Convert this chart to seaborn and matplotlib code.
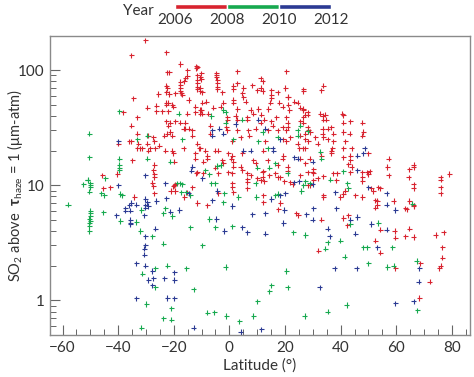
import matplotlib
matplotlib.use('Agg')
import matplotlib.pyplot as plt
import matplotlib.ticker as mticker
import seaborn as sns
import pandas as pd

sns.set_style('ticks')
plt.rcParams['font.family'] = ['Lato', 'DejaVu Sans']
plt.rcParams['mathtext.fontset'] = 'custom'
plt.rcParams['mathtext.rm'] = 'Lato'
plt.rcParams['mathtext.it'] = 'Lato:italic'
plt.rcParams['mathtext.bf'] = 'Lato:bold'

# 연도 구간별 관측값 (위도, SO2)
red_lat = [-30.2, -35.3, -22.7, -17.6, -11.9, -11.9, -22.3, -21.6, -15.1, -15.1, -16.2, -15.8,
           -17.6, -17.6, -17.6, -17.6, -17.3, -16.9, -11.5, -11.5, -11.5, -11.5, -11.5, -11.5, -10.4, -9.7, -10.1, -10.1,
           -22.7, -22.3, -22.7, -25.5, -21.6, -19.4, -34.5, -22.7, -22.7, -21.9, -20.5, -20.1, -26.3, -26.3, -29.5,
           -12.2, -12.2, -10.1, -9.7, -24.1, -21.9, -38.1, -33.1, -22.7, -19.4, -17.6, -15.8, -35.3, -21.9, -21.2,
           -16.5, -15.8, -14.7, -13.3, -29.1, -33.1, -27.3, -23.4, -22.3, -21.2, -20.5, -13.3, -36.0, -35.3, -40.0,
           -32.7, -33.1, -32.0, -29.5, -27.0, -26.6, -31.3, -29.1, -28.4, -25.2, -23.0, -20.5, -20.1, -16.5, -11.5, -10.8, -12.2,
           -34.9, -19.8, -12.2, -9.4, -27.0, -27.3, -45.7, -27.7, -27.3, -20.1, -19.4, -13.3, -45.3, -42.8,
           -34.2, -16.2, -27.0, -27.0, -27.0, -21.0, -19.8, -15.1, -40.3, -14.7, -15.1,
           -11.9, -11.5, -19.4, -4.0, -11.5, -7.9, 1.1, 1.1, 1.1, 6.5, 6.5, 6.5, 6.5,
           11.9, 12.2, 12.6, 14.4, 12.2, 12.2, 18.3, 17.6, 18.3, 19.8, 24.1, 24.8, 28.1, 29.9, 28.1, 29.1, 30.2, 32.0,
           2.9, 20.5, -4.7, -4.7, -4.7, -4.3, -4.3, -4.3, -4.3, -10.4, -10.4, 2.9, 1.4, 1.4, 11.2, 11.9, 8.3, 5.0, 4.7, 5.0,
           10.1, 11.2, 11.9, -2.5, 15.1, 15.1, 15.1, 17.3, 20.1, 20.9, 21.2,
           -9.7, -8.3, -2.2, -3.2, 1.4, 1.4, 5.8, 2.9, 7.6, 8.6, 10.4, 11.5, 14.7, 14.0, 18.0, 19.1, 21.2, 21.6, 24.5, 25.5,
           26.6, 27.3, 23.4, -10.4, -10.4, -7.6, -5.8, -0.7, -0.7, 2.2, 2.9, 6.5, 6.5, 11.2, 12.6,
           15.1, 15.5, 16.9, 20.5, 20.9, 20.9, 20.5, 17.3, 19.1, 25.5, 26.6, 28.1,
           -6.8, -1.1, -0.7, 2.9, 6.8, 7.2, 9.4, 14.0, -6.8, 1.1, 4.0, 12.9,
           19.4, 20.5, 21.9, 24.5, 25.2, 26.3, 27.3, 4.7, 12.2, -10.4, -8.6, -5.0, -4.0,
           -0.4, 1.1, 0.7, 19.4, 19.1, 25.5, -7.9, -7.9, -2.5, -2.2, 1.4, 8.6, 9.4,
           13.7, 17.3, 27.3, -5.0, 1.4, 4.0, 4.7, 20.9, 20.9, -9.4, -0.4, 11.9,
           7.6, 16.5, 17.3, 10.1, 11.2, 25.5, 21.9, 22.7, -4.0, 1.4,
           33.8, 33.1, 26.6, 26.6, 26.6, 28.1, 28.1, 32.7, 33.5, 34.5, 33.8, 34.9,
           40.6, 41.0, 41.0, 43.5, 47.8, 36.7, 37.4, 26.6, 28.4, 33.5, 33.5, 35.3,
           41.0, 43.2, 48.2, 47.8, 27.3, 29.1, 25.5, 27.3, 28.4, 30.9, 31.7, 33.8, 35.3,
           37.4, 37.0, 41.7, 41.0, 43.9, 33.1, 36.7, 36.7, 28.8, 41.0, 43.5, 43.5, 50.0,
           42.8, 43.9, 43.5, 49.6, 50.0, 50.4, 57.2, 56.8, 57.2, 30.2, 30.2, 38.8,
           31.7, 38.5, 41.7, 33.8, 33.8, 39.9, 41.0, 45.3, 47.8, 51.0, 51.8, 53.6, 54.3,
           59.0, 64.7, 52.5, 53.2, 53.2, 52.5, 63.3, 41.0,
           33.8, 37.4, 47.8, 47.8, 47.8, 64.4, 66.2, 66.2, 64.7, 66.2, 66.2,
           75.9, 75.9, 75.9, 75.9, 79.1, 63.7, 66.2, 66.2, 54.3, 59.4, 59.7,
           63.3, 64.7, 66.2, 74.1, 77.0, 76.6, 76.6, 75.9, 75.5, 59.7, 68.7,
           72.0, 68.3, 33.1, 42.4, 52.5, 54.3, 42.8]
red_so2 = [182, 135, 143, 113, 108, 104, 96, 96, 100, 89, 80, 85,
           79, 74, 70, 66, 63, 61, 106, 90, 82, 77, 71, 68, 70, 64, 94, 83,
           73, 70, 64, 62, 62, 63, 57, 52, 50, 52, 50, 48, 49, 44, 47,
           48, 43, 45, 42, 44, 44, 43, 39, 36, 36, 35, 35, 33, 33, 35,
           31, 31, 31, 30, 27, 28, 26, 27, 28, 29, 27, 27, 24, 24, 23,
           23, 21, 21, 23, 24, 21, 21, 20, 21, 22, 20, 20, 19, 21, 23, 21, 19,
           16.5, 16, 17, 16, 15, 13.5, 12.2, 10.5, 9.8, 9.8, 8.9, 9.6, 9.4, 9.6,
           7.9, 7.9, 12.4, 11.8, 8.5, 8.9, 10.0, 8.7, 12.5, 55, 42,
           12.7, 13.0, 10.2, 12.7, 7.0, 6.7, 12.7, 10.4, 9.6, 12.7, 11.3, 10.6, 9.4,
           11.7, 13.2, 10.8, 12.2, 8.2, 7.1, 7.0, 6.2, 11.7, 10.8, 5.7, 5.5, 13, 13, 10, 10, 11, 2.7,
           98, 98, 94, 90, 87, 82, 77, 71, 68, 87, 66, 77, 73, 68, 85, 80, 74, 70, 63, 58,
           67, 70, 66, 64, 67, 61, 57, 64, 70, 59, 58,
           52, 53, 52, 48, 55, 52, 53, 46, 45, 42, 46, 41, 52, 46, 52, 48, 50, 45, 52, 47,
           45, 41, 53, 45, 42, 42, 47, 39, 37, 40, 37, 39, 37, 35, 37,
           36, 33, 39, 39, 35, 32, 30, 30, 32, 36, 39, 32,
           33, 32, 30, 30, 30, 27, 31, 30, 28, 24, 26, 24,
           25, 24, 26, 23, 21, 21, 21, 19, 20, 21, 20, 20, 20,
           19, 18, 17, 18, 17, 17, 18, 17, 16.5, 15.5, 16, 16.5, 15.5,
           16.5, 15, 15.5, 14.2, 14.5, 14.5, 13.5, 14.5, 13.2, 12.7, 13, 13,
           12.2, 12.7, 11.7, 11.5, 11, 12.2, 10.6, 10.2, 8.5, 8.7,
           73, 67, 68, 66, 46, 43, 41, 42, 40, 41, 37, 37,
           42, 40.6, 35, 36, 35, 32, 28, 35, 30, 31, 28, 31,
           29, 28, 29, 27, 28, 29, 27, 25, 24, 26, 23, 26, 25,
           24, 21, 24, 21, 21, 18, 20, 19, 17, 17.5, 18, 16.5, 19,
           15.2, 14.4, 13, 13, 12.5, 13.2, 17, 14.4, 12.2, 13.8, 12.7, 12.7,
           11.5, 11, 9, 8.2, 7.9, 7.9, 8.4, 8.2, 7.9, 9.4, 8.9, 9.6, 9.4,
           7.3, 7.3, 7.4, 7.3, 6.7, 6.4, 6.3, 5.2,
           12, 12.7, 13, 11.7, 10.8, 11.7, 15, 14.3, 13.8, 10.2, 9.4,
           11.7, 11.2, 9.6, 8.5, 12.5, 6.2, 6.7, 6.6, 4.1, 4.0, 3.5,
           3.6, 4.2, 3.55, 3.7, 3.9, 2.9, 2.35, 2.0, 1.9, 1.9, 2.1,
           1.45, 1.05, 5.0, 4.5, 3.3, 2.6, 5.5]

green_lat = [-50.4, -39.6, -18.3, -33.1, -29.5, -16.9, -50.4, -39.6, -29.5, -21.2,
             -39.6, -39.6, -39.6, -44.6, -51.0, -58.0, -52.5, -51.0, -50.0, -50.0, -50.0, -50.4,
             -50.0, -50.0, -50.0, -50.4, -50.0, -50.4, -50.4, -50.4,
             -46.0, -45.0, -45.3, -39.2, -38.5, -39.2, -33.5, -31.7, -32.0, -27.7, -23.7,
             -23.0, -23.7, -20.5, -18.7, -17.6, -16.9, -22.3, -15.5, -31.3, -26.6, -26.6,
             -29.9, -20.9, -23.7, -20.9, -31.7, -14.0, -17.3, -15.5, -14.0,
             -7.2, -6.5, -1.8, -2.2, 3.2, 9.4, 9.7, 16.5, 17.6, 20.9, 25.9, 28.8,
             27.3, 23.0, -7.2, -5.0, 1.1, -9.7, -12.9, -1.4, 20.5, 20.9, 15.1, 14.4,
             10.1, -7.9, -5.4, -1.1, 3.6, 8.6, 27.0,
             -6.5, -2.2, -1.4, -1.4, 4.7, 25.5, 28.1, 24.5, 24.5, 11.9, 1.4, 10.4, 13.7, 17.3,
             16.5, -4.3, -3.2, 10.1, 14.4, -8.6, -5.0, 26.6, 32.7, 33.1, 41.0, 36.3, 27.3,
             42.4, 42.8, 43.5, 53.6, 35.3, 34.5, 39.9, 48.2, 49.6, 58.6, 41.4, 50.0, 56.8,
             59.0, 67.3, 42.1, 35.3, 67.6, 65.8]
green_so2 = [28, 44, 42, 25, 27, 25, 17.5, 17, 17, 16,
             15, 14, 13.5, 11.5, 11.2, 6.8, 10.2, 11, 10.4, 10, 9.6, 8.8,
             6, 5.7, 5.4, 5.1, 4.9, 4.7, 4.4, 4.0,
             8.5, 8.2, 5.8, 8.4, 8.2, 4.9, 4.8, 6.1, 4.0, 3.6, 3.1,
             6.3, 5.7, 5.4, 10.4, 10.4, 10.2, 2.0, 1.9, 1.7, 1.9, 1.3,
             0.93, 0.85, 0.7, 0.68, 0.58, 4.3, 8.7, 8.7, 8.2,
             12.4, 10.4, 8.5, 7.1, 7.9, 10.4, 7.9, 8.2, 8.4, 12.7, 8.9, 10.4,
             3.7, 3.9, 5.1, 4.3, 4.4, 3.0, 1.25, 1.95, 1.8, 1.3, 1.35, 1.2,
             0.98, 0.78, 0.79, 0.73, 0.66, 0.73, 0.73,
             40, 45, 43, 35, 37, 33, 29.5, 30, 27, 29, 25, 24, 21, 26,
             15.5, 14.7, 15, 14.2, 14.2, 13.5, 10.4, 10, 19.5, 17, 13.2, 11.2, 10.8,
             10.4, 9.4, 4.6, 4.7, 3.2, 2.8, 3.3, 2.9, 2.9, 2.9, 2.4, 2.1, 1.95,
             2.0, 2.2, 0.91, 0.8, 0.82, 6.9]

blue_lat = [-40.0, -40.0, -40.6, -37.4, -37.4, -36.0, -35.3, -35.6, -35.6, -35.6, -35.6, -33.5,
            -30.2, -30.2, -30.2, -30.2, -29.5, -29.1, -30.6, -26.3, -26.6,
            -30.2, -30.2, -30.6, -30.6, -33.5, -30.2, -29.1, -27.3, -27.7, -27.7,
            -22.7, -21.2, -23.4, -19.8, -19.8, -18.0, -33.5, -22.3, -19.8,
            -23.0, -13.3, -13.7, -14.7, -9.7, -6.1, -4.3, 1.1, 8.3, 15.1, 12.9,
            20.1, 19.8, 23.4, 27.7, 30.2, 29.9, 19.4, 12.9, -4.7, -1.8, 4.7, 6.5,
            32.4, -12.9, 4.0, 11.5,
            2.2, 10.4, 12.9, -6.1, -3.6, -6.1, -2.2, 5.0, 7.6, 15.5, 15.8, 18.3, 23.4, 24.5,
            25.2, 18.3, 29.9, 29.9, 48.6, 48.2, 46.0, 46.0, 38.1, 50.0, 56.5, 56.5, 38.5,
            59.7, 43.5, 46.0, 51.0, 56.5, 35.3, 36.0, 45.3, 53.2, 37.8, 45.7, 68.3, 68.0,
            66.2, 59.7]
blue_so2 = [24, 10, 5.5, 6.3, 6.0, 6.7, 7.0, 6.0, 5.0, 4.7, 4.6, 6.8,
            12.2, 7.6, 6.7, 6.4, 7.1, 6.6, 5.5, 7.3, 4.2,
            3.6, 3.0, 2.8, 2.5, 2.1, 2.0, 1.5, 1.55, 1.8, 1.35,
            7.7, 5.9, 1.55, 1.75, 1.5, 6.1, 1.04, 1.05, 1.04,
            10.4, 14.5, 13.4, 8.5, 11.5, 7.4, 8.9, 6.6, 5.6, 7.6, 5.7,
            8.5, 6.1, 10.6, 5.6, 6.3, 5.0, 4.7, 3.8, 5.1, 4.0, 4.3, 3.9,
            1.3, 0.58, 0.53, 0.56,
            34, 37, 31, 30, 31, 27, 28, 20, 20, 21, 20, 25, 17.5, 17,
            10.8, 8.2, 10.2, 16, 21, 19, 18, 13.5, 8.7, 9.6, 8.5, 6.8, 6.3,
            6.1, 5.0, 5.3, 4.6, 4.1, 4.2, 3.6, 3.8, 2.9, 1.9, 1.9, 1.9, 1.45,
            0.98, 0.94]

periods = ['2006-2008', '2008-2010', '2010-2012']
years = [2006, 2008, 2010, 2012]
colors = ['#d8232f', '#17a94f', '#2b3a93']

df = pd.concat([
    pd.DataFrame({'lat': red_lat, 'so2': red_so2, 'period': periods[0]}),
    pd.DataFrame({'lat': green_lat, 'so2': green_so2, 'period': periods[1]}),
    pd.DataFrame({'lat': blue_lat, 'so2': blue_so2, 'period': periods[2]}),
])

txt = '#333333'
fig = plt.figure(figsize=(4.74, 3.77), dpi=100)
ax = fig.add_axes([50/474, 42/377, 420/474, 299/377])
sns.scatterplot(data=df, x='lat', y='so2', hue='period', hue_order=periods,
                palette=colors, marker='+', s=14, linewidth=0.8, legend=False, ax=ax)
ax.set_yscale('log')
ax.set_xlim(-64.5, 86.5)
ax.set_ylim(0.5, 198)
ax.xaxis.set_major_locator(mticker.MultipleLocator(20))
ax.xaxis.set_minor_locator(mticker.MultipleLocator(5))
ax.yaxis.set_major_locator(mticker.FixedLocator([1, 10, 100]))
ax.yaxis.set_major_formatter(mticker.FixedFormatter(['1', '10', '100']))
ax.yaxis.set_minor_locator(mticker.LogLocator(base=10, subs=range(2, 10)))
ax.yaxis.set_minor_formatter(mticker.NullFormatter())
ax.xaxis.set_major_formatter(mticker.FuncFormatter(lambda v, p: f'{v:.0f}'.replace('-', '\u2212')))
ax.tick_params(which='major', direction='in', length=7, width=0.8, color='#666666',
               labelsize=11, labelcolor=txt, pad=4)
ax.tick_params(which='minor', direction='in', length=4, width=0.7, color='#666666')
for sp in ax.spines.values():
    sp.set_color('#8a8a8a')
    sp.set_linewidth(1.0)
ax.set_xlabel('Latitude (°)', fontsize=11, color=txt, labelpad=3)
ax.set_ylabel(r'SO$_2$ above  $\mathbf{\tau}_{\rm haze}$ = 1 (μm-atm)', fontsize=10.5, color=txt)
ax.yaxis.set_label_coords(-0.06, 0.5)

# 상단 연도 색상 막대
cax = fig.add_axes([175/474, 1 - 9/377, 156/474, 5/377])
for i in range(3):
    cax.barh(0, years[i + 1] - years[i], left=years[i], height=1, color=colors[i])
cax.set_xlim(years[0], years[-1])
cax.set_ylim(-0.5, 0.5)
cax.set_yticks([])
cax.set_xticks(years)
cax.set_xticklabels([str(y) for y in years])
cax.tick_params(length=0, labelsize=11, labelcolor=txt, pad=3)
for sp in cax.spines.values():
    sp.set_visible(False)
fig.text(138/474, 1 - 11/377, 'Year', ha='center', va='center', fontsize=11, color=txt)

fig.savefig('out.png', dpi=100)
